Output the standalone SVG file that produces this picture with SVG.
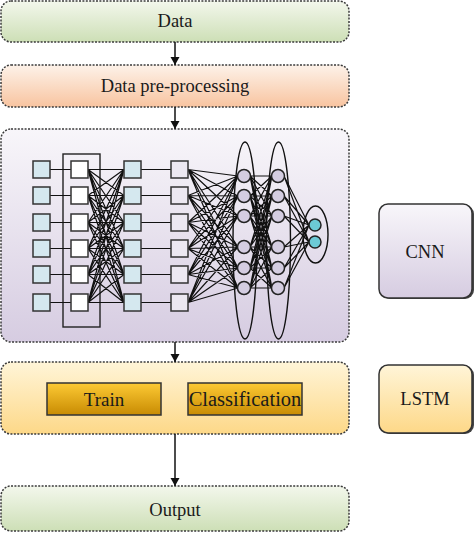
<svg xmlns="http://www.w3.org/2000/svg" width="474" height="533" viewBox="0 0 474 533" font-family="'Liberation Serif', 'Times New Roman', 'DejaVu Serif', serif">
<style>
.stage{stroke:#3a3a3a;stroke-width:1.5;stroke-dasharray:2 1.4}
.t{font-family:'Liberation Serif','Times New Roman','DejaVu Serif',serif;font-size:18.5px;fill:#1a1a1a;text-anchor:middle}
.sq{stroke:#333;stroke-width:1.5}
.nd{stroke:#222;stroke-width:1.5;fill:#d4cde1}
.el{fill:none;stroke:#111;stroke-width:1.4}
.mesh{stroke:#111;stroke-width:1.2;fill:none}
.arr{stroke:#111;stroke-width:1.5;fill:none}
.side{stroke:#333;stroke-width:1.5}
.sub{stroke:#333;stroke-width:1.5;fill:url(#gOrange)}
</style>
<defs>
<linearGradient id="gGreen" x1="0" y1="0" x2="0" y2="1"><stop offset="0" stop-color="#f3f7ec"/><stop offset="1" stop-color="#cddfb6"/></linearGradient>
<linearGradient id="gPeach" x1="0" y1="0" x2="0" y2="1"><stop offset="0" stop-color="#fdf2e9"/><stop offset="1" stop-color="#f8c4a0"/></linearGradient>
<linearGradient id="gLav" x1="0" y1="0" x2="0" y2="1"><stop offset="0" stop-color="#f8f6fa"/><stop offset="1" stop-color="#d6cce1"/></linearGradient>
<linearGradient id="gYel" x1="0" y1="0" x2="0" y2="1"><stop offset="0" stop-color="#fff5d8"/><stop offset="1" stop-color="#fdd888"/></linearGradient>
<linearGradient id="gOrange" x1="0" y1="0" x2="0" y2="1"><stop offset="0" stop-color="#fdca35"/><stop offset="1" stop-color="#c88b02"/></linearGradient>
<marker id="ah" markerWidth="8" markerHeight="11" refX="8" refY="4.5" orient="auto" markerUnits="userSpaceOnUse" viewBox="0 0 8 9"><path d="M0,0 L8,4.5 L0,9 Z" fill="#111"/></marker>
</defs>

<g id="data">
<rect class="stage" x="1" y="1" width="348" height="41" rx="10" fill="url(#gGreen)"/>
<text class="t" x="175" y="27" font-family="'Liberation Serif', serif">Data</text>
</g>

<g id="preprocessing">
<rect class="stage" x="1" y="65" width="348" height="42" rx="10" fill="url(#gPeach)"/>
<text class="t" x="175" y="92" font-family="'Liberation Serif', serif">Data pre-processing</text>
</g>

<g id="cnn-stage">
<rect class="stage" x="1" y="129" width="348" height="213" rx="10" fill="url(#gLav)"/>
<rect x="63" y="154" width="37" height="173" fill="none" stroke="#222" stroke-width="1.4"/>
<g id="connectors-net">
<path class="mesh" d="M50,169.5H71M50,195.5H71M50,222.5H71M50,248.5H71M50,274.5H71M50,302.5H71M141,169.5H171M141,195.5H171M141,222.5H171M141,248.5H171M141,274.5H171M141,302.5H171"/>
<path class="mesh" d="M88,169.5L124,169.5M88,169.5L124,195.5M88,169.5L124,222.5M88,169.5L124,248.5M88,169.5L124,274.5M88,169.5L124,302.5
M88,195.5L124,169.5M88,195.5L124,195.5M88,195.5L124,222.5M88,195.5L124,248.5M88,195.5L124,274.5M88,195.5L124,302.5
M88,222.5L124,169.5M88,222.5L124,195.5M88,222.5L124,222.5M88,222.5L124,248.5M88,222.5L124,274.5M88,222.5L124,302.5
M88,248.5L124,169.5M88,248.5L124,195.5M88,248.5L124,222.5M88,248.5L124,248.5M88,248.5L124,274.5M88,248.5L124,302.5
M88,274.5L124,169.5M88,274.5L124,195.5M88,274.5L124,222.5M88,274.5L124,248.5M88,274.5L124,274.5M88,274.5L124,302.5
M88,302.5L124,169.5M88,302.5L124,195.5M88,302.5L124,222.5M88,302.5L124,248.5M88,302.5L124,274.5M88,302.5L124,302.5"/>
<path class="mesh" d="M188,169.5L238,176M188,169.5L238,196M188,169.5L238,216M188,169.5L238,247M188,169.5L238,268M188,169.5L238,288
M188,195.5L238,176M188,195.5L238,196M188,195.5L238,216M188,195.5L238,247M188,195.5L238,268M188,195.5L238,288
M188,222.5L238,176M188,222.5L238,196M188,222.5L238,216M188,222.5L238,247M188,222.5L238,268M188,222.5L238,288
M188,248.5L238,176M188,248.5L238,196M188,248.5L238,216M188,248.5L238,247M188,248.5L238,268M188,248.5L238,288
M188,274.5L238,176M188,274.5L238,196M188,274.5L238,216M188,274.5L238,247M188,274.5L238,268M188,274.5L238,288
M188,302.5L238,176M188,302.5L238,196M188,302.5L238,216M188,302.5L238,247M188,302.5L238,268M188,302.5L238,288"/>
<path class="mesh" d="M250,176L272,176M250,176L272,196M250,176L272,216M250,176L272,247M250,176L272,268M250,176L272,288
M250,196L272,176M250,196L272,196M250,196L272,216M250,196L272,247M250,196L272,268M250,196L272,288
M250,216L272,176M250,216L272,196M250,216L272,216M250,216L272,247M250,216L272,268M250,216L272,288
M250,247L272,176M250,247L272,196M250,247L272,216M250,247L272,247M250,247L272,268M250,247L272,288
M250,268L272,176M250,268L272,196M250,268L272,216M250,268L272,247M250,268L272,268M250,268L272,288
M250,288L272,176M250,288L272,196M250,288L272,216M250,288L272,247M250,288L272,268M250,288L272,288"/>
<path class="mesh" d="M284,176L309,225M284,176L309,242M284,196L309,225M284,196L309,242M284,216L309,225M284,216L309,242M284,247L309,225M284,247L309,242M284,268L309,225M284,268L309,242M284,288L309,225M284,288L309,242"/>
</g>
<g fill="#d5e8ef" class="sq">
<rect x="33" y="161" width="17" height="17"/><rect x="33" y="187" width="17" height="17"/><rect x="33" y="214" width="17" height="17"/><rect x="33" y="240" width="17" height="17"/><rect x="33" y="266" width="17" height="17"/><rect x="33" y="294" width="17" height="17"/>
<rect x="124" y="161" width="17" height="17"/><rect x="124" y="187" width="17" height="17"/><rect x="124" y="214" width="17" height="17"/><rect x="124" y="240" width="17" height="17"/><rect x="124" y="266" width="17" height="17"/><rect x="124" y="294" width="17" height="17"/>
</g>
<g fill="#ffffff" class="sq">
<rect x="71" y="161" width="17" height="17"/><rect x="71" y="187" width="17" height="17"/><rect x="71" y="214" width="17" height="17"/><rect x="71" y="240" width="17" height="17"/><rect x="71" y="266" width="17" height="17"/><rect x="71" y="294" width="17" height="17"/>
</g>
<g fill="#ece8f1" class="sq">
<rect x="171" y="161" width="17" height="17"/><rect x="171" y="187" width="17" height="17"/><rect x="171" y="214" width="17" height="17"/><rect x="171" y="240" width="17" height="17"/><rect x="171" y="266" width="17" height="17"/><rect x="171" y="294" width="17" height="17"/>
</g>
<ellipse class="el" cx="245" cy="240.5" rx="12" ry="98.5"/>
<ellipse class="el" cx="278.5" cy="240.5" rx="12" ry="98.5"/>
<ellipse class="el" cx="315.5" cy="234.5" rx="12.5" ry="28.5"/>
<g>
<circle class="nd" cx="244" cy="176" r="6.5"/><circle class="nd" cx="244" cy="196" r="6.5"/><circle class="nd" cx="244" cy="216" r="6.5"/><circle class="nd" cx="244" cy="247" r="6.5"/><circle class="nd" cx="244" cy="268" r="6.5"/><circle class="nd" cx="244" cy="288" r="6.5"/>
<circle class="nd" cx="278" cy="176" r="6.5"/><circle class="nd" cx="278" cy="196" r="6.5"/><circle class="nd" cx="278" cy="216" r="6.5"/><circle class="nd" cx="278" cy="247" r="6.5"/><circle class="nd" cx="278" cy="268" r="6.5"/><circle class="nd" cx="278" cy="288" r="6.5"/>
<circle class="nd" cx="315" cy="225" r="6" style="fill:#6ccad6"/><circle class="nd" cx="315" cy="242" r="6" style="fill:#6ccad6"/>
</g>
</g>

<g id="lstm-stage">
<rect class="stage" x="1" y="362" width="348" height="72" rx="10" fill="url(#gYel)"/>
<g id="train">
<rect class="sub" x="47" y="383" width="114" height="32"/>
<text class="t" x="104" y="406" font-family="'Liberation Serif', serif" style="font-size:19px">Train</text>
</g>
<g id="classification">
<rect class="sub" x="188" y="383" width="114" height="32"/>
<text class="t" x="245" y="406" font-family="'Liberation Serif', serif" style="font-size:20.5px">Classification</text>
</g>
</g>

<g id="output">
<rect class="stage" x="1" y="486" width="348" height="45" rx="10" fill="url(#gGreen)"/>
<text class="t" x="175" y="516" font-family="'Liberation Serif', serif">Output</text>
</g>

<g id="cnn-label">
<rect x="381" y="205" width="93" height="94" rx="9" fill="#444"/>
<rect class="side" x="379" y="204" width="93" height="94" rx="9" fill="url(#gLav)"/>
<text class="t" x="425" y="258" font-family="'Liberation Serif', serif">CNN</text>
</g>

<g id="lstm-label">
<rect x="381" y="366" width="93" height="68" rx="9" fill="#444"/>
<rect class="side" x="379" y="365" width="93" height="68" rx="9" fill="url(#gYel)"/>
<text class="t" x="425" y="405" font-family="'Liberation Serif', serif">LSTM</text>
</g>

<g id="connectors">
<line class="arr" x1="175" y1="42" x2="175" y2="65" marker-end="url(#ah)"/>
<line class="arr" x1="175" y1="107" x2="175" y2="129" marker-end="url(#ah)"/>
<line class="arr" x1="175" y1="342" x2="175" y2="362" marker-end="url(#ah)"/>
<line class="arr" x1="175" y1="434" x2="175" y2="486" marker-end="url(#ah)"/>
</g>
</svg>
